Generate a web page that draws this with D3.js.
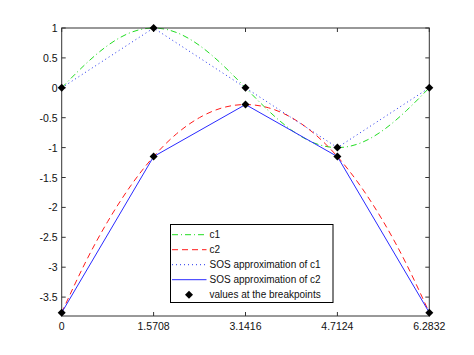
<!DOCTYPE html>
<html><head><meta charset="utf-8">
<script src="https://cdn.jsdelivr.net/npm/d3@7"></script>
<style>html,body{margin:0;padding:0;background:#fff}svg{display:block}</style>
</head><body>
<svg id="c" width="474" height="355"></svg>
<script>
const sampleX = [0, 0.3927, 0.7854, 1.1781, 1.5708, 1.9635, 2.3562, 2.7489, 3.1416, 3.5343, 3.9270, 4.3197, 4.7124, 5.1051, 5.4978, 5.8905, 6.2832];
const c1Values = [0, 0.383, 0.707, 0.924, 1, 0.924, 0.707, 0.383, 0, -0.383, -0.707, -0.924, -1, -0.924, -0.707, -0.383, 0];
const c2Values = [-3.76, -2.945, -2.238, -1.640, -1.150, -0.769, -0.498, -0.334, -0.28, -0.334, -0.498, -0.769, -1.150, -1.640, -2.238, -2.945, -3.76];
const breakX = [0, 1.5708, 3.1416, 4.7124, 6.2832];
const sos1Values = [0, 1, 0, -1, 0];
const sos2Values = [-3.76, -1.150, -0.28, -1.150, -3.76];
const xTicks = [0, 1.5708, 3.1416, 4.7124, 6.2832];
const xTickLabels = ["0", "1.5708", "3.1416", "4.7124", "6.2832"];
const yTicks = [1, 0.5, 0, -0.5, -1, -1.5, -2, -2.5, -3, -3.5];
const yTickLabels = ["1", "0.5", "0", "-0.5", "-1", "-1.5", "-2", "-2.5", "-3", "-3.5"];
const legendLabels = ["c1", "c2", "SOS approximation of c1", "SOS approximation of c2", "values at the breakpoints"];

const svg = d3.select("#c");
const L = 61.7, R = 429.3, T = 28, B = 316;
const x = d3.scaleLinear().domain([0, 6.2832]).range([L, R]);
const y = d3.scaleLinear().domain([-3.816, 1]).range([B, T]);
const font = "'Liberation Sans', Arial, sans-serif";

const line = d3.line().x(d => x(d[0])).y(d => y(d[1]));
const smooth = d3.line().x(d => x(d[0])).y(d => y(d[1])).curve(d3.curveNatural);

const g = svg.append("g");
const styles = {
  c1: {stroke: "#22dd22", dash: "6,3,1,3"},
  c2: {stroke: "#ff1a1a", dash: "6,4"},
  s1: {stroke: "#2233ee", dash: "1,3"},
  s2: {stroke: "#2a2aff", dash: null}
};
function path(data, gen, st) {
  const p = g.append("path").attr("d", gen(data)).attr("fill", "none")
    .attr("stroke", st.stroke).attr("stroke-width", 1);
  if (st.dash) p.attr("stroke-dasharray", st.dash);
}
path(sampleX.map((v, i) => [v, c1Values[i]]), smooth, styles.c1);
path(sampleX.map((v, i) => [v, c2Values[i]]), smooth, styles.c2);
path(breakX.map((v, i) => [v, sos1Values[i]]), line, styles.s1);
path(breakX.map((v, i) => [v, sos2Values[i]]), line, styles.s2);

// axes box
const ax = svg.append("g");
ax.append("rect").attr("x", L).attr("y", T).attr("width", R - L).attr("height", B - T)
  .attr("fill", "none").attr("stroke", "#333").attr("stroke-width", 1);
const tl = 4;
xTicks.forEach((t, i) => {
  const px = x(t);
  ax.append("line").attr("x1", px).attr("x2", px).attr("y1", B).attr("y2", B - tl).attr("stroke", "#333");
  ax.append("line").attr("x1", px).attr("x2", px).attr("y1", T).attr("y2", T + tl).attr("stroke", "#333");
  ax.append("text").attr("x", px).attr("y", 330).attr("text-anchor", "middle")
    .attr("font-family", font).attr("font-size", 10.5).attr("fill", "#111").text(xTickLabels[i]);
});
yTicks.forEach((t, i) => {
  const py = y(t);
  ax.append("line").attr("x1", L).attr("x2", L + tl).attr("y1", py).attr("y2", py).attr("stroke", "#333");
  ax.append("line").attr("x1", R).attr("x2", R - tl).attr("y1", py).attr("y2", py).attr("stroke", "#333");
  ax.append("text").attr("x", 57.5).attr("y", py + 4).attr("text-anchor", "end")
    .attr("font-family", font).attr("font-size", 10.5).attr("fill", "#111").text(yTickLabels[i]);
});

// markers
const diamondPath = "M0,-4L4,0L0,4L-4,0Z";
const mk = svg.append("g");
breakX.forEach((v, i) => {
  mk.append("path").attr("d", diamondPath).attr("transform", `translate(${x(v)},${y(sos1Values[i])})`).attr("fill", "#000");
  mk.append("path").attr("d", diamondPath).attr("transform", `translate(${x(v)},${y(sos2Values[i])})`).attr("fill", "#000");
});

// legend
const lg = svg.append("g");
lg.append("rect").attr("x", 170.5).attr("y", 224.5).attr("width", 162.5).attr("height", 78)
  .attr("fill", "#fff").attr("stroke", "#000").attr("stroke-width", 1);
const keys = ["c1", "c2", "s1", "s2"];
legendLabels.forEach((lab, i) => {
  const ly = 234.7 + i * 15;
  if (i < 4) {
    const st = styles[keys[i]];
    const l = lg.append("line").attr("x1", 172).attr("x2", 206.5).attr("y1", ly).attr("y2", ly)
      .attr("stroke", st.stroke).attr("stroke-width", 1);
    if (st.dash) l.attr("stroke-dasharray", st.dash);
  } else {
    lg.append("path").attr("d", diamondPath).attr("transform", `translate(189,${ly})`).attr("fill", "#000");
  }
  lg.append("text").attr("x", 209.5).attr("y", ly + 3.5).attr("font-family", font).attr("font-size", 10)
    .attr("fill", "#111").text(lab);
});
</script>
</body></html>
